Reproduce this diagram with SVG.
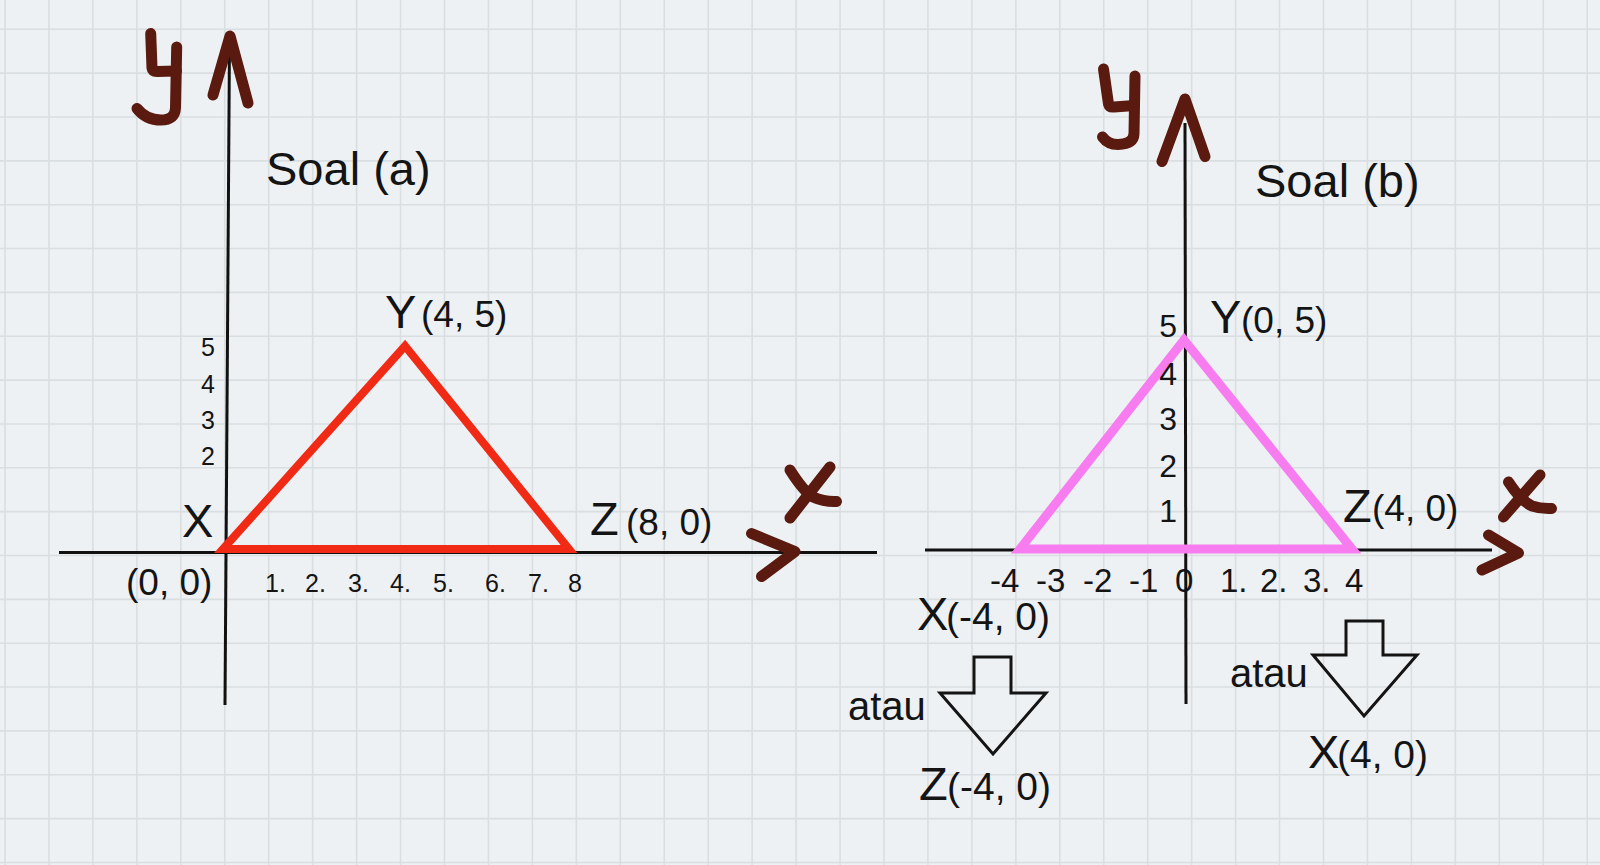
<svg xmlns="http://www.w3.org/2000/svg" width="1600" height="865" viewBox="0 0 1600 865">
<defs>
<style>
.bg{fill:#eef1f3}
.grid{stroke:#d9dee1;stroke-width:1.6;fill:none}
.axis{stroke:#111;stroke-width:3;fill:none;stroke-linecap:butt}
.hand{stroke:#5a1a0f;stroke-width:11;fill:none;stroke-linecap:round;stroke-linejoin:round}
.t{font-family:"Liberation Sans",Arial,Helvetica,sans-serif;fill:#141414}
.big{font-size:47px}
.mid{font-size:37px}
.alt{font-size:39px}
.sm{font-size:25px}
.rs{font-size:32px}
.rx{font-size:33px}
.down{fill:none;stroke:#141414;stroke-width:3;stroke-linejoin:miter}
</style>
</defs>
<rect class="bg" x="0" y="0" width="1600" height="865"/>
<path class="grid" d="M5,0V865M48.95,0V865M92.9,0V865M136.85,0V865M180.8,0V865M224.75,0V865M268.7,0V865M312.65,0V865M356.6,0V865M400.55,0V865M444.5,0V865M488.45,0V865M532.4,0V865M576.35,0V865M620.3,0V865M664.25,0V865M708.2,0V865M752.15,0V865M796.1,0V865M840.05,0V865M884,0V865M927.95,0V865M971.9,0V865M1015.85,0V865M1059.8,0V865M1103.75,0V865M1147.7,0V865M1191.65,0V865M1235.6,0V865M1279.55,0V865M1323.5,0V865M1367.45,0V865M1411.4,0V865M1455.35,0V865M1499.3,0V865M1543.25,0V865M1587.2,0V865M0,29.3H1600M0,73.15H1600M0,117H1600M0,160.85H1600M0,204.7H1600M0,248.55H1600M0,292.4H1600M0,336.25H1600M0,380.1H1600M0,423.95H1600M0,467.8H1600M0,511.65H1600M0,555.5H1600M0,599.35H1600M0,643.2H1600M0,687.05H1600M0,730.9H1600M0,774.75H1600M0,818.6H1600M0,862.45H1600"/>

<g id="connectors">
<path class="axis" d="M229.5,40L225,705"/>
<path class="axis" d="M59,552.5H877"/>
<path class="axis" d="M1185,123L1186,704"/>
<path class="axis" d="M925,550H1492"/>
</g>

<g id="hand-left">
<path class="hand" d="M213,95L230,36L248,103"/>
<path class="hand" d="M751.5,533.5L795,551.5L761.5,576.5"/>
<path class="hand" d="M830,467L790,518"/>
<path class="hand" d="M790,470Q804,492 813,497Q824,502 836.5,501.5"/>
<path class="hand" d="M150.7,33.5L152,68Q152.5,71.5 157,71.5L176.5,71"/>
<path class="hand" d="M176.7,47L175.5,108Q175,120 161,120Q146,120 137,108.5"/>
</g>

<g id="hand-right">
<path class="hand" d="M1162,161.5L1185,99L1205,156.5"/>
<path class="hand" d="M1488.5,535L1518.5,553L1482,570"/>
<path class="hand" d="M1540,475L1503.5,517"/>
<path class="hand" d="M1508.5,482Q1521,501 1532,506Q1541,509 1551.5,508.5"/>
<path class="hand" d="M1103.5,69L1108.5,104Q1109.5,107.5 1114,107L1134.5,105.5"/>
<path class="hand" d="M1135,76L1134,134Q1133.5,144 1118,144.5Q1108,144.5 1102.5,137"/>
</g>

<g id="triangle-a">
<polygon points="223,549 405,346 569,549" fill="none" stroke="#f02a14" stroke-width="8" stroke-linejoin="miter" stroke-miterlimit="10"/>
</g>

<g id="triangle-b">
<polygon points="1020,549 1184,340 1352,549" fill="none" stroke="#f67cf0" stroke-width="9" stroke-linejoin="miter" stroke-miterlimit="10"/>
</g>

<g id="labels-a">
<text class="t" x="266" y="185" font-size="47">Soal (a)</text>
<text class="t big" x="385" y="328">Y</text>
<text class="t mid" x="421" y="327">(4, 5)</text>
<g class="t sm" text-anchor="end">
<text x="215" y="356">5</text>
<text x="215" y="393">4</text>
<text x="215" y="428.5">3</text>
<text x="215" y="465">2</text>
</g>
<text class="t big" x="182" y="537">X</text>
<text class="t mid" x="126" y="595">(0, 0)</text>
<g class="t sm">
<text x="265" y="591.5">1.</text>
<text x="305" y="591.5">2.</text>
<text x="348" y="591.5">3.</text>
<text x="390" y="591.5">4.</text>
<text x="433" y="591.5">5.</text>
<text x="485" y="591.5">6.</text>
<text x="528" y="591.5">7.</text>
<text x="568" y="591.5">8</text>
</g>
<text class="t big" x="590" y="535">Z</text>
<text class="t mid" x="626" y="535">(8, 0)</text>
</g>

<g id="labels-b">
<text class="t" x="1255" y="197" font-size="47">Soal (b)</text>
<text class="t big" x="1210" y="333">Y</text>
<text class="t mid" x="1241" y="333">(0, 5)</text>
<g class="t rs" text-anchor="end">
<text x="1177" y="337">5</text>
<text x="1177" y="385">4</text>
<text x="1177" y="430">3</text>
<text x="1177" y="476.5">2</text>
<text x="1177" y="521.5">1</text>
</g>
<g class="t rx">
<text x="990" y="592">-4</text>
<text x="1036" y="592">-3</text>
<text x="1083" y="592">-2</text>
<text x="1129" y="592">-1</text>
<text x="1175" y="592">0</text>
<text x="1220" y="592">1.</text>
<text x="1260" y="592">2.</text>
<text x="1303" y="592">3.</text>
<text x="1345" y="592">4</text>
</g>
<text class="t big" x="1343" y="521.5">Z</text>
<text class="t mid" x="1372" y="521">(4, 0)</text>
</g>

<g id="alt-left">
<text class="t big" x="917" y="630">X</text>
<text class="t alt" x="946" y="629.5">(-4, 0)</text>
<text class="t" x="848" y="720" font-size="40">atau</text>
<polygon class="down" points="974,657 1011,657 1011,693 1046,693 993,754 940,693 974,693"/>
<text class="t big" x="919" y="800">Z</text>
<text class="t alt" x="947" y="800">(-4, 0)</text>
</g>

<g id="alt-right">
<text class="t" x="1230" y="687" font-size="40">atau</text>
<polygon class="down" points="1346,621 1383,621 1383,655 1417,655 1364,716 1313,655 1346,655"/>
<text class="t big" x="1308" y="768">X</text>
<text class="t alt" x="1337" y="768">(4, 0)</text>
</g>
</svg>
